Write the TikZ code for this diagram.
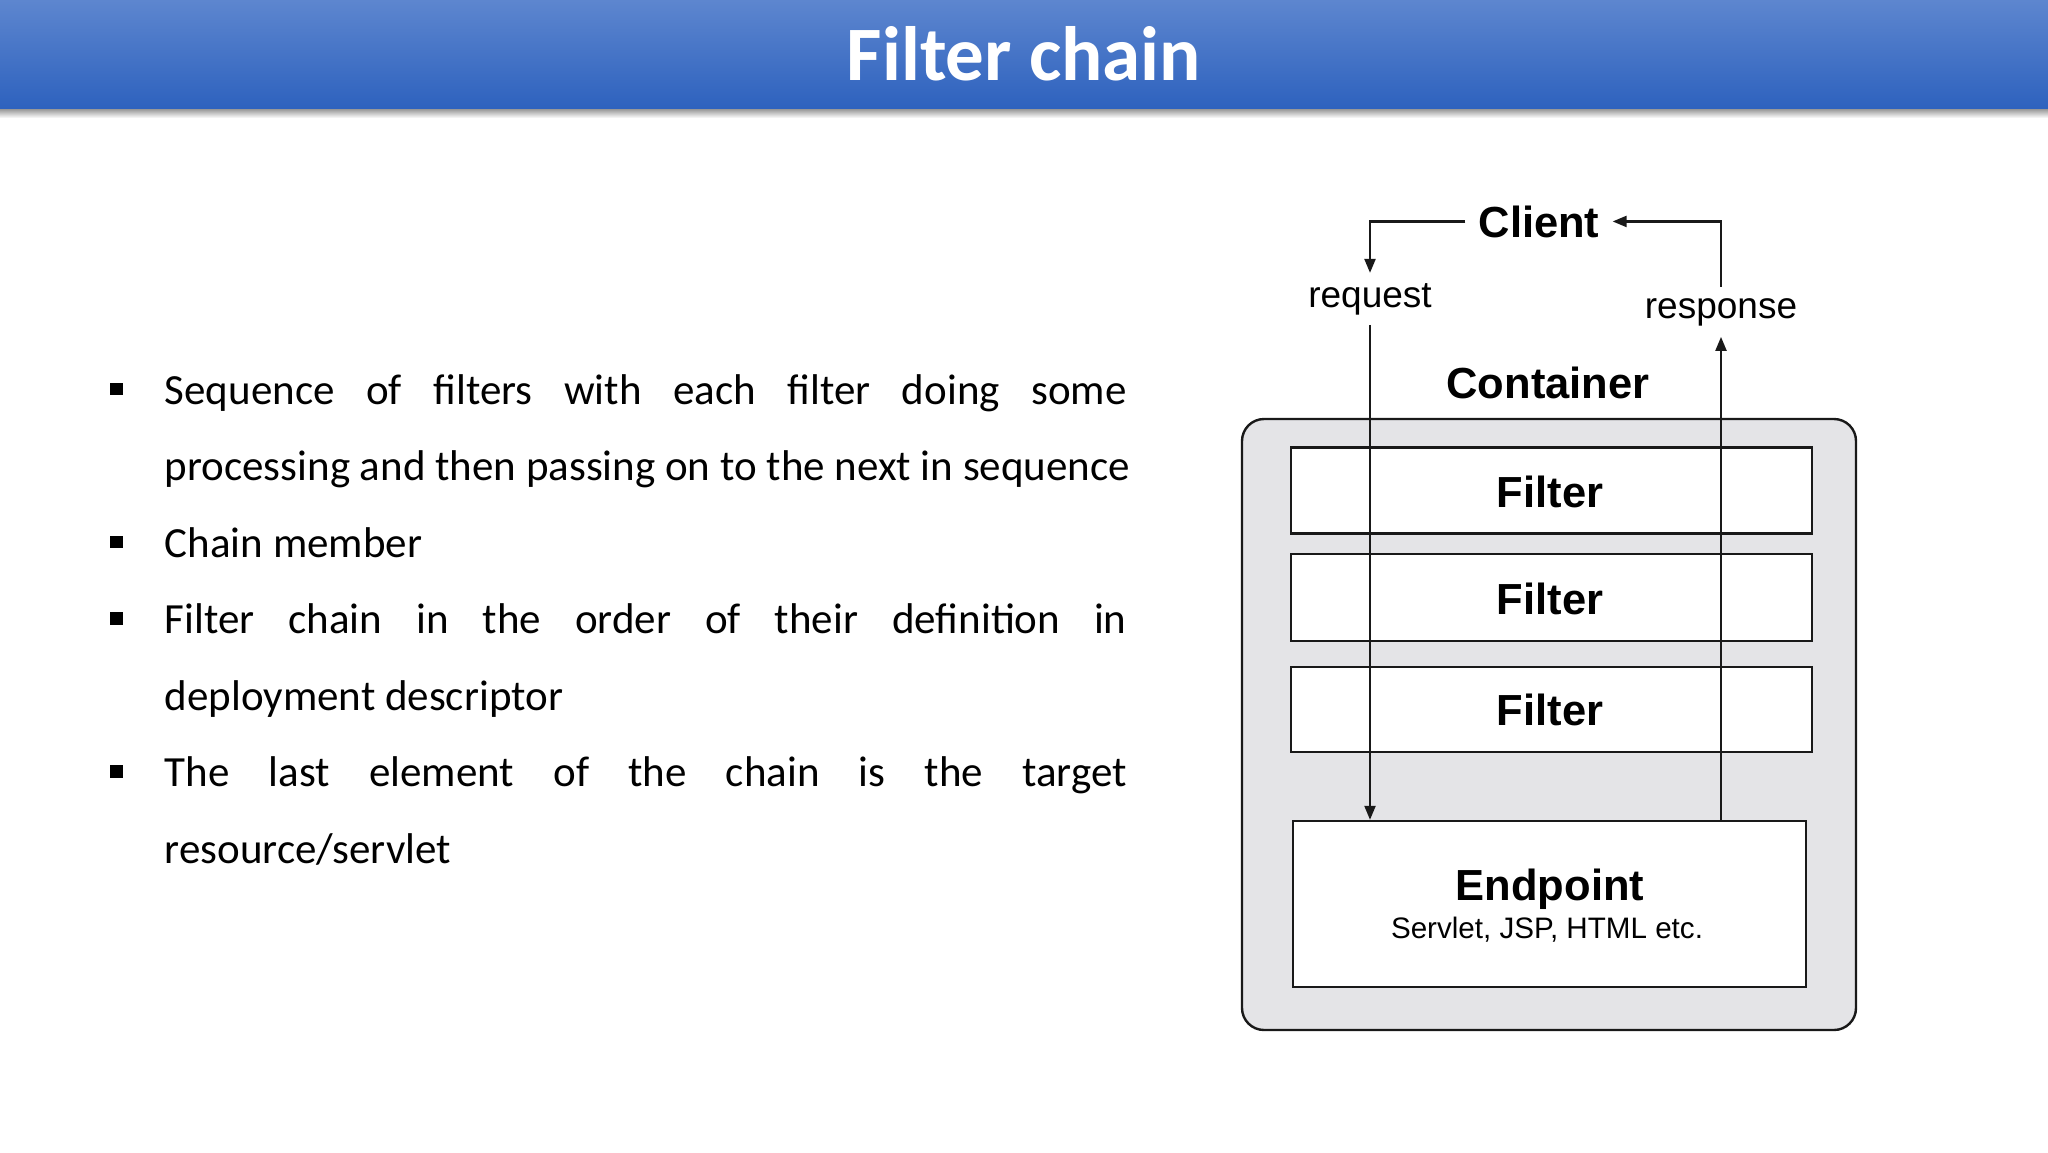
\documentclass[tikz,border=0pt]{standalone}
\usepackage{fontspec}
\setmainfont{Carlito}
\newfontfamily\diagfont{Liberation Sans}
\usetikzlibrary{arrows.meta}
\definecolor{bartop}{RGB}{93,134,207}
\definecolor{barbot}{RGB}{46,98,190}
\definecolor{contgray}{RGB}{228,228,231}
\definecolor{lineblk}{RGB}{25,25,25}
\begin{document}
\begin{tikzpicture}[x=1pt,y=-1pt,
  bullettext/.style={anchor=base west, inner sep=0pt, font=\fontsize{43}{52}\selectfont},
  bulletmark/.style={fill=black, minimum size=12.5pt, inner sep=0pt},
  lbl/.style={anchor=base, font=\diagfont\fontsize{37}{42}\selectfont},
  blbl/.style={anchor=base, font=\diagfont\bfseries\fontsize{43.5}{48}\selectfont},
  stage/.style={draw=lineblk, line width=2.4pt, fill=white, inner sep=0pt},
  stagetext/.style={font=\diagfont\bfseries\fontsize{43.5}{48}\selectfont},
  flow/.style={draw=lineblk, line width=2.2pt, -{Triangle[length=14pt,width=11pt]}},
]
\useasboundingbox (0,0) rectangle (2048,1152);
\fill[white] (0,0) rectangle (2048,1152);
% header
\shade[top color=black!45, bottom color=white] (0,108) rectangle (2048,118);
\shade[top color=bartop, bottom color=barbot] (0,0) rectangle (2048,108);
\node[anchor=base, inner sep=0pt, text=white, font=\bfseries\fontsize{77}{90}\selectfont] (title) at (1024,80) {Filter chain};

% bullets
\node[bulletmark] (b1) at (116.5,389) {};
\node[bullettext] (l1) at (164.6,404) {\makebox[962pt][s]{Sequence of filters with each filter doing some}};
\node[bullettext] (l2) at (164.6,480.5) {processing and then passing on to the next in sequence};
\node[bulletmark] (b2) at (116.5,542) {};
\node[bullettext] (l3) at (164.6,557) {Chain member};
\node[bulletmark] (b3) at (116.5,618.5) {};
\node[bullettext] (l4) at (164.6,633.5) {\makebox[962pt][s]{Filter chain in the order of their definition in}};
\node[bullettext] (l5) at (164.6,710) {deployment descriptor};
\node[bulletmark] (b4) at (116.5,771.5) {};
\node[bullettext] (l6) at (164.6,786.5) {\makebox[962pt][s]{The last element of the chain is the target}};
\node[bullettext] (l7) at (164.6,863) {resource/servlet};

% diagram
\node[blbl, inner xsep=13pt] (client) at (1539,237) {Client};
\node[lbl, inner xsep=6pt, inner ysep=10pt] (request) at (1370,307) {request};
\node[lbl, inner xsep=6pt, inner ysep=11pt] (response) at (1721,318) {response};
\node[blbl] (contlbl) at (1548,398) {Container};

\node[draw=lineblk, line width=2.4pt, fill=contgray, rounded corners=22pt,
      minimum width=614pt, minimum height=611pt, inner sep=0pt] (container) at (1549,724.5) {};

\node[stage, minimum width=521pt, minimum height=86pt] (f1) at (1551.5,490.5) {};
\node[stage, minimum width=521pt, minimum height=87pt] (f2) at (1551.5,597.5) {};
\node[stage, minimum width=521pt, minimum height=85pt] (f3) at (1551.5,709.5) {};
\node[stagetext, anchor=base] (f1t) at (1550,507) {Filter};
\node[stagetext, anchor=base] (f2t) at (1550,614) {Filter};
\node[stagetext, anchor=base] (f3t) at (1550,725) {Filter};

\node[stage, minimum width=513pt, minimum height=166pt] (endpoint) at (1549.5,904) {};
\node[stagetext, anchor=base, inner sep=0pt] (eptitle) at (1550,900) {Endpoint};
\node[anchor=base, inner sep=0pt, font=\diagfont\fontsize{29.6}{34}\selectfont] (epsub) at (1547,938) {Servlet, JSP, HTML etc.};

\draw[flow] (client.west) -| (request.north);
\draw[flow] (request.south) -- (request.south |- endpoint.north);
\draw[flow] (endpoint.north -| response.south) -- (response.south);
\draw[flow] (response.north) |- (client.east);
\end{tikzpicture}
\end{document}
